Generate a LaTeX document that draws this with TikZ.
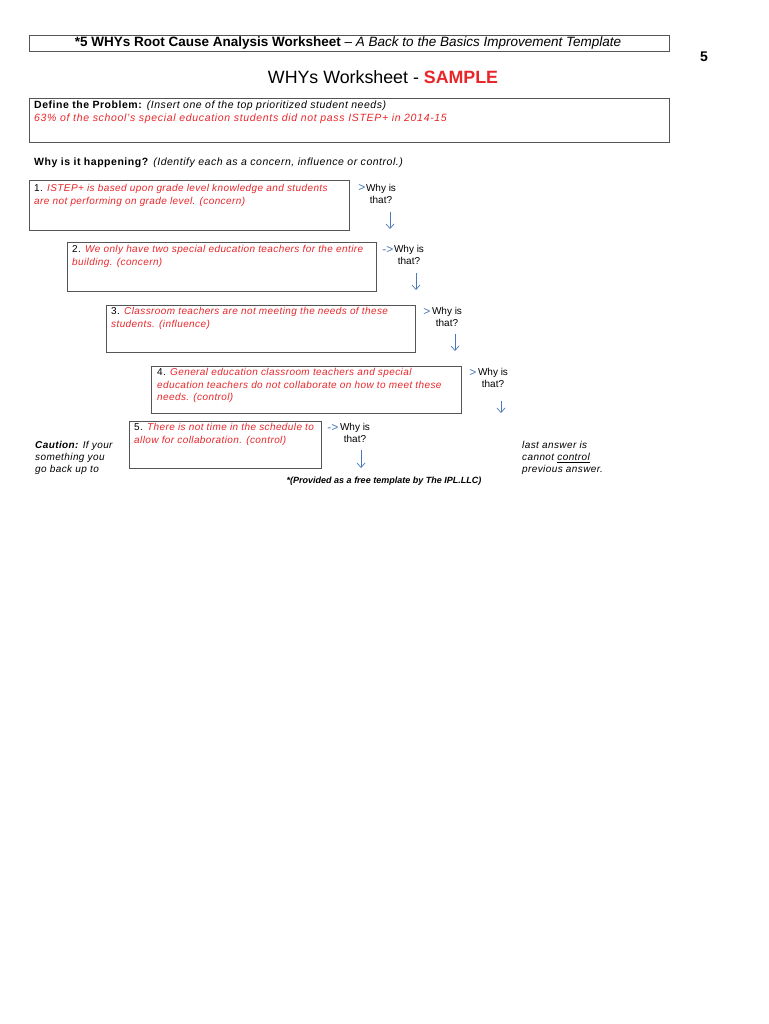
\documentclass[tikz,border=0pt]{standalone}
\usepackage{fontspec}
\setmainfont{Liberation Sans}
\usetikzlibrary{arrows.meta}
\definecolor{txtred}{HTML}{E8262A}
\definecolor{arrblue}{HTML}{4A78B8}
\definecolor{boxgray}{HTML}{555555}
\newcommand{\rd}[1]{\textcolor{txtred}{\itshape #1}}
\begin{document}
\begin{tikzpicture}[x=1pt,y=-1pt,
  box/.style={draw=boxgray, line width=0.8, anchor=north west, inner sep=0, fill=white},
  btxt/.style={anchor=north west, inner sep=0, align=left, font=\fontsize{10}{12.2}\selectfont\addfontfeature{LetterSpace=4}},
  why/.style={align=center, inner sep=0, anchor=north, font=\fontsize{10}{12}\selectfont},
  gt/.style={text=arrblue, inner sep=0, anchor=base east, font=\fontsize{12}{12}\selectfont},
  arr/.style={draw=arrblue, line width=0.7, -{Straight Barb[length=4.5,width=8]}},
  side/.style={anchor=north west, inner sep=0, align=left, font=\fontsize{10}{12}\selectfont\addfontfeature{LetterSpace=4}\itshape}
]
\useasboundingbox[fill=white] (0,0) rectangle (768,1024);

% header
\node[box, minimum width=640, minimum height=16] (hdr) at (29,35) {};
\node[inner sep=0, font=\fontsize{13.5}{15}\selectfont] (hdrt) at (348,43) {\textbf{*5 WHYs Root Cause Analysis Worksheet} -- \textit{A Back to the Basics Improvement Template}};
\node[inner sep=0, font=\fontsize{14}{16}\selectfont\bfseries] (pg) at (704,57) {5};
\node[inner sep=0, font=\fontsize{17.8}{20}\selectfont] (title) at (383,77) {WHYs Worksheet - \textcolor{txtred}{\textbf{SAMPLE}}};

% define problem
\node[box, minimum width=640, minimum height=44] (def) at (29,98) {};
\node[btxt, font=\fontsize{10.5}{13}\selectfont\addfontfeature{LetterSpace=5}] (deft) at (34,101) {\textbf{Define the Problem:} \textit{(Insert one of the top prioritized student needs)}\\
\addfontfeature{LetterSpace=6.5}\rd{63\% of the school's special education students did not pass ISTEP+ in 2014-15}};

\node[btxt, font=\fontsize{10.5}{13}\selectfont\addfontfeature{LetterSpace=5}] (whyh) at (34,158) {\textbf{Why is it happening?} \textit{(Identify each as a concern, influence or control.)}};

% box 1
\node[box, minimum width=320, minimum height=50] (b1) at (29,180) {};
\node[btxt] (t1) at (34,184.5) {1. \rd{ISTEP+ is based upon grade level knowledge and students}\\ \rd{are not performing on grade level. (concern)}};
\node[why] (w1) at (381,184) {Why is\\that?};
\node[gt] (g1) at (365.5,192) {>};
\coordinate (s1) at (390,212); \coordinate (e1) at (390,229);
\draw[arr] (s1) -- (e1);

% box 2
\node[box, minimum width=309, minimum height=49] (b2) at (67,242) {};
\node[btxt] (t2) at (72,245.5) {2. \rd{We only have two special education teachers for the entire}\\ \rd{building. (concern)}};
\node[why] (w2) at (409,245) {Why is\\that?};
\node[gt] (g2) at (393.5,253) {-{}>};
\coordinate (s2) at (416,273); \coordinate (e2) at (416,290);
\draw[arr] (s2) -- (e2);

% box 3
\node[box, minimum width=309, minimum height=47] (b3) at (106,305) {};
\node[btxt] (t3) at (111,307.5) {3. \rd{Classroom teachers are not meeting the needs of these}\\ \rd{students. (influence)}};
\node[why] (w3) at (447,307) {Why is\\that?};
\node[gt] (g3) at (430.5,315) {>};
\coordinate (s3) at (455,334); \coordinate (e3) at (455,351);
\draw[arr] (s3) -- (e3);

% box 4
\node[box, minimum width=310, minimum height=47] (b4) at (151,366) {};
\node[btxt] (t4) at (157,368.5) {4. \rd{General education classroom teachers and special}\\ \rd{education teachers do not collaborate on how to meet these}\\ \rd{needs. (control)}};
\node[why] (w4) at (493,368) {Why is\\that?};
\node[gt] (g4) at (476.5,376) {>};
\coordinate (s4) at (501,401); \coordinate (e4) at (501,413);
\draw[arr] (s4) -- (e4);

% box 5
\node[box, minimum width=192, minimum height=47] (b5) at (129,421) {};
\node[btxt] (t5) at (134,423.5) {5. \rd{There is not time in the schedule to}\\ \rd{allow for collaboration. (control)}};
\node[why] (w5) at (355,423) {Why is\\that?};
\node[gt] (g5) at (338.5,431) {-{}>};
\coordinate (s5) at (361,450); \coordinate (e5) at (361,468);
\draw[arr] (s5) -- (e5);

% side texts
\node[side] (caut) at (35,441) {\textbf{Caution:} If your\\something you\\go back up to};
\node[side] (rt) at (522,441) {last answer is\\cannot \underline{control}\\previous answer.};
\node[inner sep=0, font=\fontsize{9}{10}\selectfont\bfseries\itshape] (foot) at (384,481) {*(Provided as a free template by The IPL.LLC)};
\end{tikzpicture}
\end{document}
